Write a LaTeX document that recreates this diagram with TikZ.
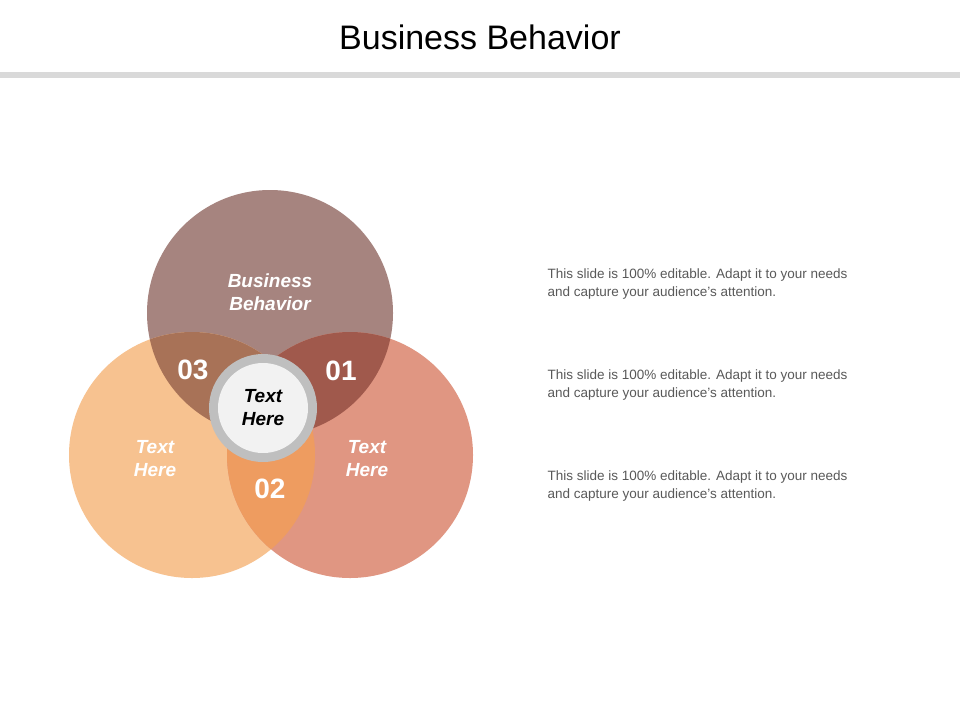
\documentclass[tikz,border=0pt]{standalone}
\usepackage{fontspec}
\setmainfont{Liberation Sans}
\begin{document}
\begin{tikzpicture}[x=1pt,y=-1pt,
  lbl/.style={text=white,font=\bfseries\itshape\fontsize{19}{23}\selectfont,align=center},
  num/.style={text=white,font=\bfseries\fontsize{28}{32}\selectfont},
  desc/.style={text=black!65,font=\fontsize{13.5}{18}\selectfont,align=left,anchor=west}]
\definecolor{ctop}{HTML}{A6847F}
\definecolor{cright}{HTML}{E09682}
\definecolor{cleft}{HTML}{F7C290}
\definecolor{ctr}{HTML}{A0594C}
\definecolor{ctl}{HTML}{A87257}
\definecolor{clr}{HTML}{EE9C60}
\useasboundingbox (0,0) rectangle (960,720);
\fill[white] (0,0) rectangle (960,720);
\node (title) at (480,37) {\fontsize{34}{40}\selectfont Business Behavior};
\fill[black!15] (0,72) rectangle (960,78);
\coordinate (T) at (270,313);
\coordinate (L) at (192,455);
\coordinate (R) at (350,455);
\fill[ctop] (T) circle (123);
\fill[cleft] (L) circle (123);
\fill[cright] (R) circle (123);
\begin{scope}\clip (T) circle (123); \fill[ctr] (R) circle (123); \end{scope}
\begin{scope}\clip (T) circle (123); \fill[ctl] (L) circle (123); \end{scope}
\begin{scope}\clip (L) circle (123); \fill[clr] (R) circle (123); \end{scope}
\node[circle,fill=black!25,minimum size=108pt,inner sep=0] (c) at (263,408) {};
\node[circle,fill=black!5,minimum size=90pt,inner sep=0,lbl,text=black] (ci) at (263,408) {Text\\Here};
\node[lbl] (bb) at (270,292) {Business\\Behavior};
\node[lbl] (tl) at (155,459) {Text\\Here};
\node[lbl] (tr) at (367,459) {Text\\Here};
\node[num] (n3) at (193,370) {03};
\node[num] (n1) at (341,371) {01};
\node[num] (n2) at (270,489) {02};
\node[desc] (d1) at (544,284) {This slide is 100\% editable. Adapt it to your needs\\and capture your audience's attention.};
\node[desc] (d2) at (544,385) {This slide is 100\% editable. Adapt it to your needs\\and capture your audience's attention.};
\node[desc] (d3) at (544,486) {This slide is 100\% editable. Adapt it to your needs\\and capture your audience's attention.};
\end{tikzpicture}
\end{document}
